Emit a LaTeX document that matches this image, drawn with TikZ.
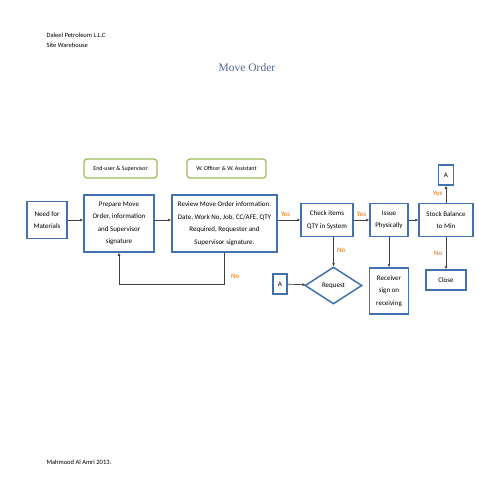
\documentclass[tikz,border=0pt]{standalone}
\usepackage{fontspec}
\setmainfont{Carlito}
\newfontfamily\titlefont{Liberation Serif}
\usetikzlibrary{arrows.meta}
\usetikzlibrary{shapes.geometric}
\definecolor{boxblue}{RGB}{65,113,176}
\definecolor{boxgreen}{RGB}{155,187,89}
\definecolor{answerorange}{RGB}{228,108,10}
\definecolor{titleblue}{RGB}{84,102,150}
\tikzset{
  process/.style={draw=boxblue, line width=1.5pt, align=center, inner sep=1pt,
    font=\fontsize{7}{12.5}\selectfont},
  role/.style={draw=boxgreen, rounded corners=3pt, line width=1.2pt,
    minimum height=19pt, font=\fontsize{6}{7}\selectfont},
  flow/.style={draw=black!75, line width=0.7pt, -{Latex[length=3pt,width=3pt]}},
  answer/.style={text=answerorange, font=\fontsize{7}{8}\selectfont},
  header/.style={anchor=west, font=\fontsize{6.5}{8}\selectfont}
}
\begin{document}
\begin{tikzpicture}[x=1pt, y=-1pt]
      \useasboundingbox (0,0) rectangle (495,495);

      % header and footer
      \node[header] (company) at (43,35) {Daleel Petroleum L.L.C};
      \node[header] (site) at (43,45) {Site Warehouse};
      \node[text=titleblue, font=\titlefont\fontsize{11.5}{13}\selectfont] (title) at (247,68) {Move Order};
      \node[header] (footer) at (43,462) {Mahmood Al Amri 2013.};

      % roles
      \node[role, minimum width=73pt] (enduser) at (120.5,168.5) {End-user \& Supervisor};
      \node[role, minimum width=79pt] (officer) at (226.5,168.5) {W. Officer \& W. Assistant};

      % main row
      \node[process, minimum width=40pt, minimum height=37pt] (need) at (47,220) {Need for\\Materials};
      \node[process, minimum width=70pt, minimum height=57pt] (prepare) at (119,223.5) {Prepare Move\\Order, information\\and Supervisor\\signature};
      \node[process, minimum width=105pt, minimum height=57pt] (review) at (224.5,223.5) {Review Move Order information.\\Date, Work No, Job, CC/AFE, QTY\\Required, Requester and\\Supervisor signature.};
      \node[process, minimum width=52pt, minimum height=33pt] (check) at (327,220) {Check items\\QTY in System};
      \node[process, minimum width=38pt, minimum height=33pt] (issue) at (389,220) {Issue\\Physically};
      \node[process, minimum width=54pt, minimum height=33pt] (stock) at (446,220) {Stock Balance\\to Min};

      % lower and upper boxes
      \node[process, minimum width=15pt, minimum height=20pt] (atop) at (446,175) {A};
      \node[process, minimum width=40pt, minimum height=20pt] (close) at (446,280) {Close};
      \node[process, minimum width=39pt, minimum height=46pt] (receiver) at (389,291) {Receiver\\sign on\\receiving};
      \node[process, diamond, aspect=1.55, inner sep=0pt, minimum width=57pt, minimum height=37pt] (request) at (333.5,285.5) {Request};
      \node[process, minimum width=14pt, minimum height=20pt] (aleft) at (280,284) {A};

      % connectors
      \draw[flow] (need.east) -- (need.east -| prepare.west);
      \draw[flow] (prepare.east |- need) -- (review.west |- need);
      \draw[flow] (review.east |- check) -- node[answer, above, pos=0.35] {Yes} (check.west);
      \draw[flow] (check) -- node[answer, above] {Yes} (issue);
      \draw[flow] (issue) -- (stock);
      \draw[flow] (stock) -- node[answer, left, pos=0.55] {Yes} (atop);
      \draw[flow] (stock) -- node[answer, left] {No} (close);
      \draw[flow] (issue) -- (receiver);
      \draw[flow] (check.south -| request) -- node[answer, right, pos=0.45] {No} (request.north);
      \draw[flow] (aleft) -- (request);
      \draw[flow] (review.south) -- node[answer, right=3pt, pos=0.75] {No} ++(0,32) -| (prepare.south);
    \end{tikzpicture}
\end{document}
